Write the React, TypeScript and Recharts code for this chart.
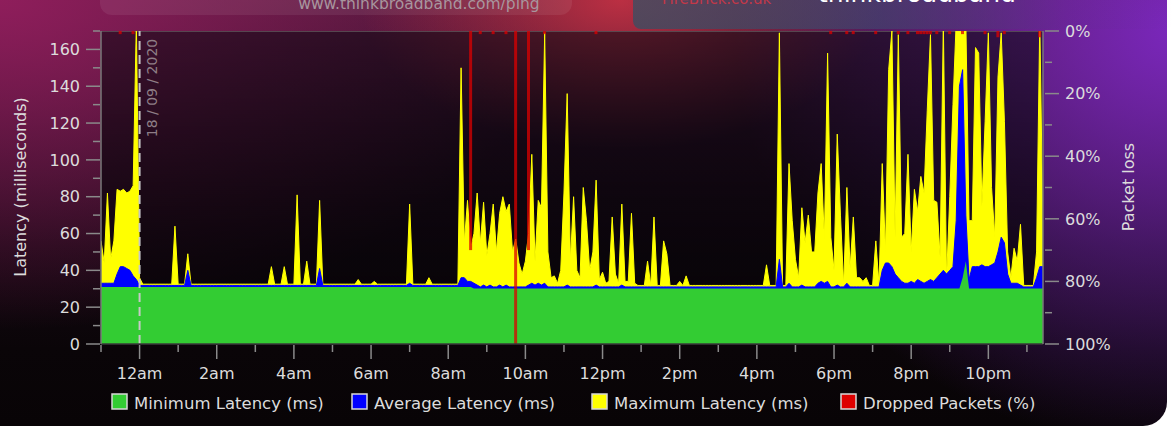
import React from "react"
import { ComposedChart, Area, Bar, XAxis, YAxis, ReferenceLine } from "recharts"

// samples every 5 minutes, starting 23:00 the evening before
const START_MIN = -60
const STEP_MIN = 5

const maxLatency = [
  56, 44, 82, 46, 56, 84, 83, 84, 82, 83, 86, 175,
  36, 32.5, 32.5, 32.5, 32.5, 32.5, 32.5, 32.5, 32.5, 32.5, 32.5, 64,
  32.5, 32.5, 32.5, 49, 32.5, 32.5, 32.5, 32.5, 32.5, 32.5, 32.5, 32.5,
  32.5, 32.5, 32.5, 32.5, 32.5, 32.5, 32.5, 32.5, 32.5, 32.5, 32.5, 32.5,
  32.5, 32.5, 32.5, 32.5, 32.5, 42, 32.5, 32.5, 32.5, 42, 32.5, 32.5,
  32.5, 81, 32.5, 32.5, 45, 32.5, 32.5, 32.5, 78, 32.5, 32.5, 32.5,
  32.5, 32.5, 32.5, 32.5, 32.5, 32.5, 32.5, 32.5, 35, 32.5, 32.5, 32.5,
  32.5, 34, 32.5, 32.5, 32.5, 32.5, 32.5, 32.5, 32.5, 32.5, 32.5, 32.5,
  76, 32.5, 32.5, 32.5, 32.5, 32.5, 36, 32.5, 32.5, 32.5, 32.5, 32.5,
  32.5, 32.5, 32.5, 32.5, 150, 55, 78, 52, 60, 82, 55, 77,
  48, 60, 76, 50, 71, 80, 72, 76, 50, 57, 44, 38,
  45, 60, 103, 45, 78, 74, 169, 50, 36, 37, 33, 40,
  82, 136, 45, 80, 40, 36, 85, 67, 40, 50, 89, 35,
  39, 33, 34, 69, 38, 33, 76, 34, 34, 71, 33, 31.8,
  31.8, 31.8, 45, 31.8, 69, 31.8, 31.8, 56, 49, 31.8, 31.8, 31.8,
  34, 31.8, 37, 31.8, 31.8, 31.8, 31.8, 31.8, 31.8, 31.8, 31.8, 31.8,
  31.8, 31.8, 31.8, 31.8, 31.8, 31.8, 31.8, 31.8, 31.8, 31.8, 31.8, 31.8,
  31.8, 31.8, 31.8, 43, 31.8, 31.8, 31.8, 169, 31.8, 31.8, 98, 67,
  46, 36, 74, 55, 70, 50, 50, 82, 98, 57, 158, 58,
  40, 114, 70, 31.8, 85, 41, 69, 36, 36, 34, 36, 31.8,
  31.8, 56, 31.8, 98, 50, 149, 170, 58, 168, 58, 60, 103,
  50, 84, 72, 91, 82, 127, 168, 78, 77, 47, 175, 35,
  80, 130, 175, 175, 175, 175, 67, 67, 161, 158, 75, 121,
  169, 85, 58, 145, 169, 121, 50, 36, 52, 45, 65, 31.8,
  31.8, 31.8, 31.8, 50, 175, 60,
]

const avgLatency = [
  33, 33, 33, 33, 33, 38, 42, 42, 41, 40, 37, 35,
  31.8, 31.8, 31.8, 31.8, 31.8, 31.8, 31.8, 31.8, 31.8, 31.8, 31.8, 31.8,
  31.8, 31.8, 31.8, 40, 31.8, 31.8, 31.8, 31.8, 31.8, 31.8, 31.8, 31.8,
  31.8, 31.8, 31.8, 31.8, 31.8, 31.8, 31.8, 31.8, 31.8, 31.8, 31.8, 31.8,
  31.8, 31.8, 31.8, 31.8, 31.8, 31.8, 31.8, 31.8, 31.8, 31.8, 31.8, 31.8,
  31.8, 31.8, 31.8, 31.8, 31.8, 31.8, 31.8, 31.8, 41, 31.8, 31.8, 31.8,
  31.8, 31.8, 31.8, 31.8, 31.8, 31.8, 31.8, 31.8, 31.8, 31.8, 31.8, 31.8,
  31.8, 31.8, 31.8, 31.8, 31.8, 31.8, 31.8, 31.8, 31.8, 31.8, 31.8, 31.8,
  33, 31.8, 31.8, 31.8, 31.8, 31.8, 31.8, 31.8, 31.8, 31.8, 31.8, 31.8,
  31.8, 31.8, 31.8, 31.8, 36, 36, 34, 34, 33, 32, 31, 32,
  31, 32, 31, 31, 32, 31, 32, 31, 31, 31, 31, 31,
  31, 32, 33, 32, 33, 32, 33, 31, 31, 31, 31, 31,
  31, 32, 31, 31, 31, 31, 31, 31, 31, 31, 32, 31,
  31, 31, 31, 31, 31, 31, 32, 31, 31, 31, 31, 31,
  31, 31, 31, 31, 31, 31, 31, 31, 31, 31, 31, 31,
  31, 31, 31, 31, 31, 31, 31, 31, 31, 31, 31, 31,
  31, 31, 31, 31, 31, 31, 31, 31, 31, 31, 31, 31,
  31, 31, 31, 31, 31, 31, 31, 46, 31, 31, 33, 31,
  31, 31, 32, 31, 31, 31, 31, 33, 34, 33, 34, 31,
  31, 32, 31, 31, 33, 31, 31, 31, 31, 31, 31, 31,
  31, 31, 31, 40, 44, 44, 42, 38, 36, 34, 33, 33,
  34, 33, 35, 34, 33, 34, 35, 34, 36, 38, 40, 38,
  40, 42, 67, 140, 149, 70, 35, 42, 42, 42, 43, 42,
  42, 43, 44, 50, 58, 55, 38, 33, 33, 33, 32, 31,
  31, 31, 31, 36, 42, 42,
]

const minLatency = [
  31, 31, 31, 31, 31, 31, 31, 31, 31, 31, 31, 31,
  31, 31, 31, 31, 31, 31, 31, 31, 31, 31, 31, 31,
  31, 31, 31, 31, 31, 31, 31, 31, 31, 31, 31, 31,
  31, 31, 31, 31, 31, 31, 31, 31, 31, 31, 31, 31,
  31, 31, 31, 31, 31, 31, 31, 31, 31, 31, 31, 31,
  31, 31, 31, 31, 31, 31, 31, 31, 31, 31, 31, 31,
  31, 31, 31, 31, 31, 31, 31, 31, 31, 31, 31, 31,
  31, 31, 31, 31, 31, 31, 31, 31, 31, 31, 31, 31,
  31, 31, 31, 31, 31, 31, 31, 31, 31, 31, 31, 31,
  31, 31, 31, 31, 31, 31, 31, 31, 30.2, 30.2, 30.2, 30.2,
  30.2, 30.2, 30.2, 30.2, 30.2, 30.2, 30.2, 30.2, 30.2, 30.2, 30.2, 30.2,
  30.2, 30.2, 30.2, 30.2, 30.2, 30.2, 30.2, 30.2, 30.2, 30.2, 30.2, 30.2,
  30.2, 30.2, 30.2, 30.2, 30.2, 30.2, 30.2, 30.2, 30.2, 30.2, 30.2, 30.2,
  30.2, 30.2, 30.2, 30.2, 30.2, 30.2, 30.2, 30.2, 30.2, 30.2, 30.2, 30.2,
  30.2, 30.2, 30.2, 30.2, 30.2, 30.2, 30.2, 30.2, 30.2, 30.2, 30.2, 30.2,
  30.2, 30.2, 30.2, 30.2, 30.2, 30.2, 30.2, 30.2, 30.2, 30.2, 30.2, 30.2,
  30.2, 30.2, 30.2, 30.2, 30.2, 30.2, 30.2, 30.2, 30.2, 30.2, 30.2, 30.2,
  30.2, 30.2, 30.2, 30.2, 30.2, 30.2, 30.2, 30.2, 30.2, 30.2, 30.2, 30.2,
  30.2, 30.2, 30.2, 30.2, 30.2, 30.2, 30.2, 30.2, 30.2, 30.2, 30.2, 30.2,
  30.2, 30.2, 30.2, 30.2, 30.2, 30.2, 30.2, 30.2, 30.2, 30.2, 30.2, 30.2,
  30.2, 30.2, 30.2, 30.2, 30.2, 30.2, 30.2, 30.2, 30.2, 30.2, 30.2, 30.2,
  30.2, 30.2, 30.2, 30.2, 30.2, 30.2, 30.2, 30.2, 30.2, 30.2, 30.2, 30.2,
  30.2, 30.2, 30.2, 30.2, 36, 45, 30.2, 30.2, 30.2, 30.2, 30.2, 30.2,
  30.2, 30.2, 30.2, 30.2, 30.2, 30.2, 30.2, 30.2, 30.2, 30.2, 30.2, 30.2,
  30.2, 30.2, 30.2, 30.2, 30.2, 30.2,
]

// minutes from midnight with any packet loss, and the loss in %
const dropTimes = [-30, -10, 515, 530, 550, 570, 585, 605, 630, 710, 1075, 1100, 1110, 1145,
  1180, 1195, 1210, 1215, 1220, 1225, 1230, 1240, 1260, 1280, 1315, 1335, 1345, 1400]
const dropPct = [1, 1, 70, 1, 1, 1, 100, 70, 1, 1, 1, 1, 1, 1,
  1, 1, 1, 1, 1, 1, 1, 1, 1, 1, 1, 2, 1, 2]

const hourTicks = [-60, 0, 60, 120, 180, 240, 300, 360, 420, 480, 540, 600, 660, 720,
  780, 840, 900, 960, 1020, 1080, 1140, 1200, 1260, 1320, 1380]
const hourLabels = ["", "12am", "", "2am", "", "4am", "", "6am", "", "8am", "", "10am", "",
  "12pm", "", "2pm", "", "4pm", "", "6pm", "", "8pm", "", "10pm", ""]

const latencyTicks = [0, 10, 20, 30, 40, 50, 60, 70, 80, 90, 100, 110, 120, 130, 140, 150, 160, 170]
const lossTicks = [0, 10, 20, 30, 40, 50, 60, 70, 80, 90, 100]

const legendItems = [
  { label: "Minimum Latency (ms)", color: "#33cc33", x: 112 },
  { label: "Average Latency (ms)", color: "#0000ff", x: 352 },
  { label: "Maximum Latency (ms)", color: "#ffff00", x: 592 },
  { label: "Dropped Packets (%)", color: "#dd0000", x: 841 },
]

const rows = maxLatency.map((m, i) => {
  const t = START_MIN + i * STEP_MIN
  const k = dropTimes.indexOf(t)
  return { t, max: m, avg: avgLatency[i], min: minLatency[i], drop: k >= 0 ? dropPct[k] : 0 }
})

const TEXT = "#dcdcdc"
const TICK = "#8a8a8a"

const TimeTick = (props: any) => {
  const { x, y, payload } = props
  const label = hourLabels[hourTicks.indexOf(payload.value)]
  const major = label !== ""
  return (
    <g>
      <line x1={x} y1={y + 1} x2={x} y2={y + (major ? 15 : 8)} stroke={TICK} strokeWidth={1.5} />
      {major && (
        <text x={x} y={y + 35} textAnchor="middle" fill={TEXT} fontSize={16}>
          {label}
        </text>
      )}
    </g>
  )
}

const LatencyTick = (props: any) => {
  const { x, y, payload } = props
  const major = payload.value % 20 === 0
  return (
    <g>
      <line x1={x - (major ? 15 : 8)} y1={y} x2={x - 1} y2={y} stroke={TICK} strokeWidth={1.5} />
      {major && (
        <text x={x - 21} y={y} dy="0.36em" textAnchor="end" fill={TEXT} fontSize={16}>
          {payload.value}
        </text>
      )}
    </g>
  )
}

const LossTick = (props: any) => {
  const { x, y, payload } = props
  const major = payload.value % 20 === 0
  return (
    <g>
      <line x1={x + 2} y1={y} x2={x + (major ? 16 : 9)} y2={y} stroke={TICK} strokeWidth={1.5} />
      {major && (
        <text x={x + 22} y={y} dy="0.36em" textAnchor="start" fill={TEXT} fontSize={16}>
          {payload.value + "%"}
        </text>
      )}
    </g>
  )
}

const panelBg = [
  "radial-gradient(260px 150px at 620px 0px, rgba(225,55,70,0.75), rgba(225,55,70,0))",
  "radial-gradient(440px 420px at 1175px 30px, rgba(125,40,195,0.95), rgba(125,40,195,0))",
  "radial-gradient(560px 330px at 0px 0px, rgba(150,30,95,0.9), rgba(150,30,95,0))",
  "linear-gradient(180deg, #4a1838 0%, #2a0e24 30%, #140812 58%, #0a0508 82%, #080406 100%)",
].join(", ")

export default function App() {
  return (
    <div
      style={{
        position: "absolute",
        left: 0,
        top: 0,
        width: 1175,
        height: 426,
        background: "#ffffff",
        overflow: "hidden",
        fontFamily: "'DejaVu Sans', sans-serif",
      }}
    >
      <div
        style={{
          position: "absolute",
          left: 0,
          top: 0,
          width: 1167,
          height: 426,
          borderBottomRightRadius: 24,
          background: panelBg,
        }}
      />
      <div
        style={{
          position: "absolute",
          left: 633,
          top: -12,
          width: 540,
          height: 41,
          borderRadius: 8,
          background: "linear-gradient(90deg, rgba(52,80,100,0.75) 0%, rgba(62,74,112,0.6) 45%, rgba(90,45,140,0.15) 80%, rgba(90,45,140,0) 100%)",
        }}
      />
      <div
        style={{
          position: "absolute",
          left: 101,
          top: 31,
          width: 942,
          height: 313,
          background: "linear-gradient(180deg, rgba(10,6,16,0.55) 0%, rgba(8,4,10,0.7) 50%, rgba(6,3,6,0.85) 100%)",
          borderTop: "1px solid rgba(210,190,200,0.35)",
          boxSizing: "border-box",
        }}
      />
      <div style={{ position: "absolute", left: 0, top: 0 }}>
        <ComposedChart width={1175} height={426} data={rows} margin={{ top: 31, right: 0, bottom: 0, left: 0 }}>
          <XAxis
            dataKey="t"
            type="number"
            domain={[-60, 1405]}
            allowDataOverflow
            ticks={hourTicks}
            interval={0}
            tick={(p: any) => <TimeTick {...p} />}
            tickLine={false}
            tickSize={0}
            tickMargin={0}
            axisLine={{ stroke: "#3a3a3a", strokeWidth: 1.5 }}
            height={82}
          />
          <YAxis
            yAxisId="ms"
            domain={[0, 170]}
            allowDataOverflow
            ticks={latencyTicks}
            interval={0}
            tick={(p: any) => <LatencyTick {...p} />}
            tickLine={false}
            tickSize={0}
            tickMargin={0}
            axisLine={{ stroke: "#7a7a7a", strokeWidth: 1.5 }}
            width={101}
          />
          <YAxis
            yAxisId="loss"
            orientation="right"
            domain={[0, 100]}
            reversed
            allowDataOverflow
            ticks={lossTicks}
            interval={0}
            tick={(p: any) => <LossTick {...p} />}
            tickLine={false}
            tickSize={0}
            tickMargin={0}
            axisLine={{ stroke: "#7a7a7a", strokeWidth: 1.5 }}
            width={132}
          />
          <Area
            yAxisId="ms"
            type="linear"
            dataKey="max"
            fill="#ffff00"
            fillOpacity={1}
            stroke="#ffff00"
            strokeWidth={1}
            dot={false}
            activeDot={false}
            isAnimationActive={false}
          />
          <Area
            yAxisId="ms"
            type="linear"
            dataKey="avg"
            fill="#0000ff"
            fillOpacity={1}
            stroke="#0000ff"
            strokeWidth={1}
            dot={false}
            activeDot={false}
            isAnimationActive={false}
          />
          <Area
            yAxisId="ms"
            type="linear"
            dataKey="min"
            fill="#33cc33"
            fillOpacity={1}
            stroke="none"
            dot={false}
            activeDot={false}
            isAnimationActive={false}
          />
          <Bar yAxisId="loss" dataKey="drop" fill="#dd0000" fillOpacity={0.75} barSize={3} isAnimationActive={false} />
          <ReferenceLine yAxisId="ms" x={0} stroke="#c8c8c8" strokeWidth={2} strokeDasharray="9 5" />
        </ComposedChart>
      </div>
      <svg
        width={1175}
        height={426}
        style={{ position: "absolute", left: 0, top: 0, pointerEvents: "none" }}
      >
        <rect x={100} y={-20} width={472} height={35} rx={12} fill="rgba(255,255,255,0.07)" />
        <text x={419} y={9} textAnchor="middle" fill="#a8969e" fontSize={15.5}>
          www.thinkbroadband.com/ping
        </text>
        <text x={662} y={4} fill="#c23848" fontSize={15}>
          FireBrick.co.uk
        </text>
        <text x={818} y={2} fill="#ffffff" fontSize={25}>
          thinkbroadband
        </text>
        <text x={0} y={0} transform="translate(20 187) rotate(-90)" dy="0.36em" textAnchor="middle" fill={TEXT} fontSize={16}>
          Latency (milliseconds)
        </text>
        <text x={0} y={0} transform="translate(1128 187) rotate(-90)" dy="0.36em" textAnchor="middle" fill={TEXT} fontSize={16}>
          Packet loss
        </text>
        <text x={0} y={0} transform="translate(152 88) rotate(-90)" dy="0.36em" textAnchor="middle" fill="#8e7e86" fontSize={14}>
          18 / 09 / 2020
        </text>
        {legendItems.map((it) => (
          <g key={it.label}>
            <rect x={it.x} y={394} width={15} height={15} fill={it.color} stroke="#d8d8d8" strokeWidth={1.5} />
            <text x={it.x + 22} y={409} fill={TEXT} fontSize={16.5}>
              {it.label}
            </text>
          </g>
        ))}
      </svg>
    </div>
  )
}
